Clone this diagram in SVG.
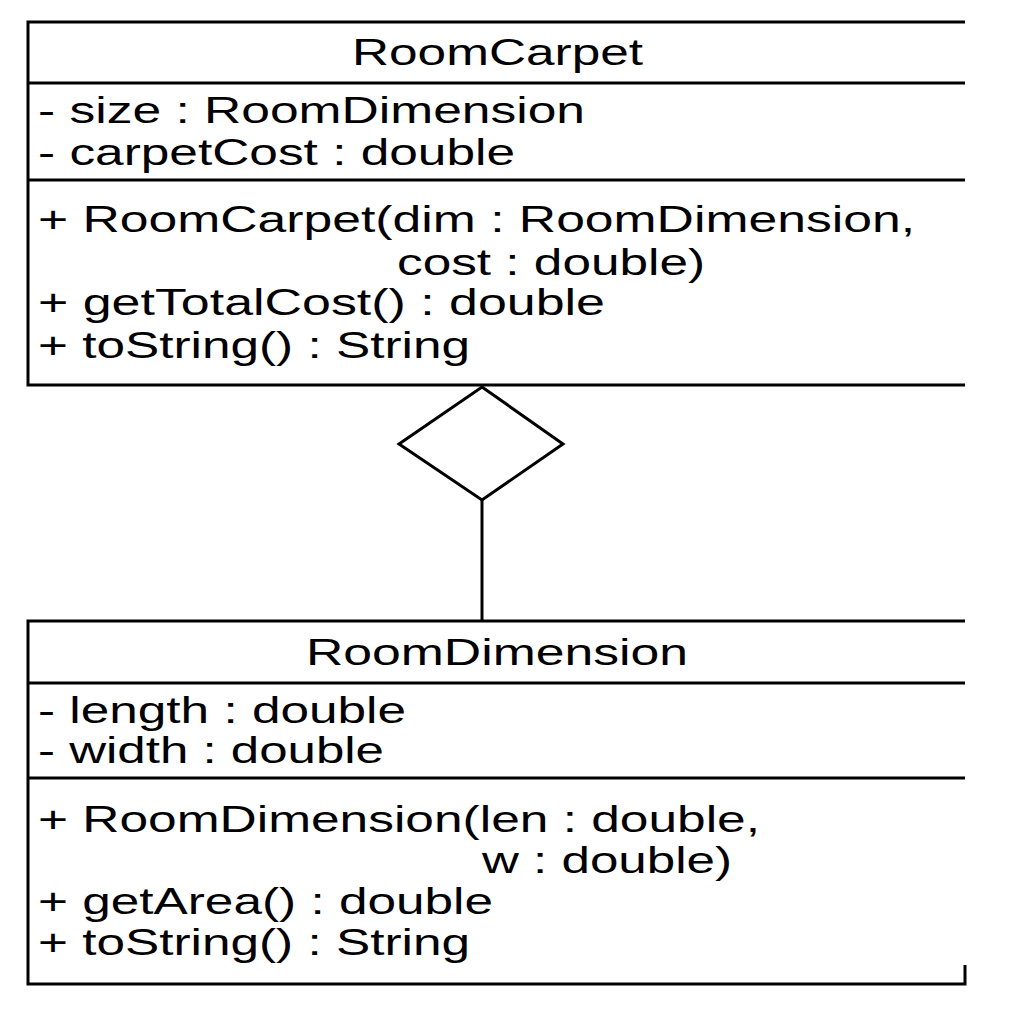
<svg xmlns="http://www.w3.org/2000/svg" width="1011" height="1024" viewBox="0 0 1011 1024">
<style>
text{font-family:"Liberation Sans",Arial,sans-serif;font-size:36px;fill:#000}
line,path{stroke:#000;stroke-width:3;fill:none}
</style>
<rect width="1011" height="1024" fill="#fff"/>
<g id="RoomCarpet">
<path d="M965 22H28V385H965M28 83H965M28 180H965"/>
<text x="352" y="65" textLength="291" lengthAdjust="spacingAndGlyphs">RoomCarpet</text>
<text x="38" y="123" textLength="547" lengthAdjust="spacingAndGlyphs">- size : RoomDimension</text>
<text x="38" y="165" textLength="477" lengthAdjust="spacingAndGlyphs">- carpetCost : double</text>
<text x="38" y="232" textLength="877" lengthAdjust="spacingAndGlyphs">+ RoomCarpet(dim : RoomDimension,</text>
<text x="397" y="275" textLength="308" lengthAdjust="spacingAndGlyphs">cost : double)</text>
<text x="38" y="315" textLength="567" lengthAdjust="spacingAndGlyphs">+ getTotalCost() : double</text>
<text x="38" y="358" textLength="432" lengthAdjust="spacingAndGlyphs">+ toString() : String</text>
</g>
<g id="RoomDimension">
<path d="M965 621H28V984H965V965M28 683H965M28 778H965"/>
<text x="306" y="665" textLength="382" lengthAdjust="spacingAndGlyphs">RoomDimension</text>
<text x="38" y="723" textLength="368" lengthAdjust="spacingAndGlyphs">- length : double</text>
<text x="38" y="763" textLength="346" lengthAdjust="spacingAndGlyphs">- width : double</text>
<text x="38" y="832" textLength="722" lengthAdjust="spacingAndGlyphs">+ RoomDimension(len : double,</text>
<text x="482" y="873" textLength="250" lengthAdjust="spacingAndGlyphs">w : double)</text>
<text x="38" y="914" textLength="455" lengthAdjust="spacingAndGlyphs">+ getArea() : double</text>
<text x="38" y="955" textLength="432" lengthAdjust="spacingAndGlyphs">+ toString() : String</text>
</g>
<g id="connectors">
<path d="M482 387L563 444L482 500L399 444Z" stroke-width="4"/>
<line x1="482" y1="500" x2="482" y2="621" stroke-width="4"/>
</g>
</svg>
